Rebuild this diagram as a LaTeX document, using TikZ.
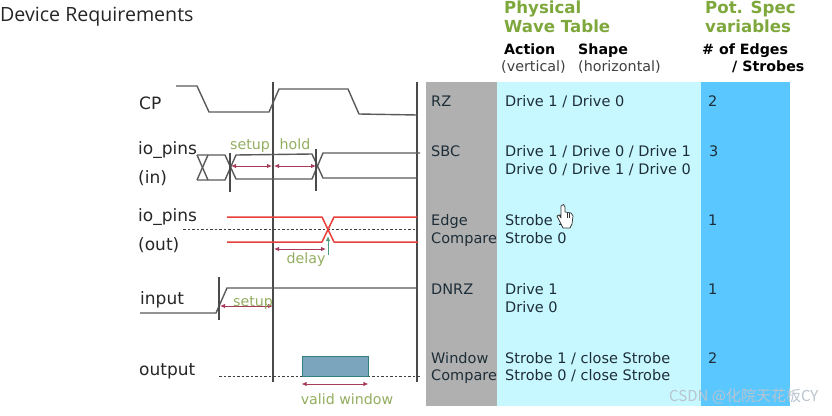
\documentclass[tikz,border=0pt]{standalone}
\usepackage{fontspec}
\setmainfont{DejaVu Sans}
\newfontfamily\titlefont{Open Sans}
\newfontfamily\cjkfont{Noto Sans CJK SC}
\usetikzlibrary{arrows.meta}
\definecolor{wave}{HTML}{5A5A5A}
\definecolor{vline}{HTML}{4A4A4A}
\definecolor{redw}{HTML}{E8403A}
\definecolor{maroon}{HTML}{A83A5A}
\definecolor{olive}{HTML}{94AE60}
\definecolor{head}{HTML}{7FA83C}
\definecolor{tgray}{HTML}{B0B0B0}
\definecolor{tcyan}{HTML}{C8F8FF}
\definecolor{tblue}{HTML}{5AC8FF}
\definecolor{ink}{HTML}{1E2E38}
\definecolor{wmark}{HTML}{B8C4CE}
\definecolor{greenar}{HTML}{4F9A80}
\tikzset{
  x=1pt,y=-1pt,
  lbl/.style={inner sep=0pt,anchor=mid west,yshift=-2pt,font=\fontsize{14.5}{16}\selectfont,text=ink},
  sig/.style={inner sep=0pt,anchor=mid west,yshift=-3pt,font=\fontsize{17}{19}\selectfont,text=black!85},
  note/.style={inner sep=0pt,anchor=mid,yshift=-2.5pt,font=\fontsize{14.2}{16}\selectfont,text=olive},
  hd/.style={inner sep=0pt,anchor=mid west,yshift=-2pt,font=\fontsize{16.6}{18}\selectfont\bfseries,text=head},
  sub/.style={inner sep=0pt,anchor=mid west,yshift=-2pt,font=\fontsize{14.2}{16}\selectfont\bfseries,text=black},
  subn/.style={inner sep=0pt,anchor=mid west,yshift=-2pt,font=\fontsize{14.3}{16}\selectfont,text=black!75},
  wv/.style={draw=wave,line width=1.4pt,line join=round},
  vl/.style={draw=vline,line width=1.2pt},
  rw/.style={draw=redw,line width=1.5pt,line join=round},
  dsh/.style={draw=black!75,line width=1pt,dash pattern=on 2.5pt off 2pt},
  dim/.style={draw=maroon,line width=0.9pt,{Latex[length=5pt,width=4.5pt]}-{Latex[length=5pt,width=4.5pt]}},
}
\begin{document}
\begin{tikzpicture}
\useasboundingbox (0,0) rectangle (832,415);
\fill[white] (0,0) rectangle (832,415);
% table bands
\fill[tgray] (426,82) rectangle (497,406);
\fill[tcyan] (497,82) rectangle (701,406);
\fill[tblue] (701,82) rectangle (790,406);
% title and headers
\node[inner sep=0pt,anchor=mid west,font=\fontsize{19.6}{22}\selectfont\titlefont,text=black!85] (title) at (0,19) {Device Requirements};
\node[hd] (h1) at (504,9) {Physical};
\node[hd] (h2) at (504,28) {Wave Table};
\node[hd] (h3) at (705,9) {Pot. Spec};
\node[hd] (h4) at (705,28) {variables};
\node[sub] (s1) at (504,50) {Action};
\node[sub] (s2) at (578,50) {Shape};
\node[sub] (s3) at (702,50) {\# of Edges};
\node[sub] (s4) at (732,67) {/ Strobes};
\node[subn] (n1) at (501,67) {(vertical)};
\node[subn] (n2) at (578,67) {(horizontal)};
% signal names
\node[sig] (cp) at (139,104) {CP};
\node[sig] (ioa) at (138,149) {io\_pins};
\node[sig] (iob) at (138,178) {(in)};
\node[sig] (ioc) at (138,216) {io\_pins};
\node[sig] (iod) at (138,245) {(out)};
\node[sig] (inp) at (140,299) {input};
\node[sig] (outp) at (139,370) {output};
% table text
\node[lbl] (c1) at (431,102) {RZ};
\node[lbl] (c2) at (431,152) {SBC};
\node[lbl] (c3) at (431,221) {Edge};
\node[lbl] (c3b) at (431,239) {Compare};
\node[lbl] (c4) at (431,290) {DNRZ};
\node[lbl] (c5) at (431,359) {Window};
\node[lbl] (c5b) at (431,376) {Compare};
\node[lbl] (d1) at (505,102) {Drive 1 / Drive 0};
\node[lbl] (d2) at (505,152) {Drive 1 / Drive 0 / Drive 1};
\node[lbl] (d2b) at (505,170) {Drive 0 / Drive 1 / Drive 0};
\node[lbl] (d3) at (505,221) {Strobe 1};
\node[lbl] (d3b) at (505,239) {Strobe 0};
\node[lbl] (d4) at (505,290) {Drive 1};
\node[lbl] (d4b) at (505,308) {Drive 0};
\node[lbl] (d5) at (505,359) {Strobe 1 / close Strobe};
\node[lbl] (d5b) at (505,376) {Strobe 0 / close Strobe};
\node[lbl] (e1) at (708,102) {2};
\node[lbl] (e2) at (709,152) {3};
\node[lbl] (e3) at (708,221) {1};
\node[lbl] (e4) at (708,290) {1};
\node[lbl] (e5) at (708,359) {2};
% verticals
\coordinate (t1a) at (273,82); \coordinate (t1b) at (273,382);
\coordinate (t2a) at (417,82); \coordinate (t2b) at (417,382);
\draw[vl] (t1a) -- (t1b);
\draw[vl] (t2a) -- (t2b);
% CP
\draw[wv] (176,86) -- (197,86) -- (209,112) -- (269,112) -- (279,89) -- (348,89) -- (359,114) -- (417,115);
% io_pins in
\draw[wv] (197,155) -- (225,155) -- (236,179) -- (312,179) -- (323,153) -- (420,153);
\draw[wv] (197,180) -- (225,180) -- (236,155) -- (312,154) -- (323,178) -- (417,178);
\draw[wv] (197,155) -- (208,180);
\draw[wv] (208,155) -- (197,180);
\coordinate (st1) at (230,153); \coordinate (st2) at (230,192);
\coordinate (ho1) at (316,149); \coordinate (ho2) at (316,191);
\draw[vl] (st1) -- (st2);
\draw[vl] (ho1) -- (ho2);
\coordinate (sa) at (231,166); \coordinate (sb) at (272,166);
\coordinate (ha) at (274,166); \coordinate (hb) at (316,166);
\draw[dim] (sa) -- (sb);
\draw[dim] (ha) -- (hb);
\node[note] (setup1) at (250,144) {setup};
\node[note] (hold) at (295,144) {hold};
% io_pins out
\coordinate (dsa) at (183,229); \coordinate (dsb) at (417,229);
\draw[dsh] (dsa) -- (dsb);
\draw[rw] (227,217) -- (322,217) -- (334,242) -- (418,242);
\draw[rw] (227,242) -- (322,242) -- (334,217) -- (417,217);
\coordinate (ga) at (328,255); \coordinate (gb) at (328,236);
\draw[draw=greenar,line width=0.9pt,-{Latex[length=5pt,width=4.5pt]}] (ga) -- (gb);
\coordinate (da) at (274,249); \coordinate (db) at (326,249);
\draw[dim] (da) -- (db);
\node[note] (delay) at (306,258) {delay};
% input
\draw[wv] (140,313) -- (216,313) -- (227,288) -- (417,288);
\coordinate (ia) at (219,277); \coordinate (ib) at (219,320);
\draw[vl] (ia) -- (ib);
\coordinate (ua) at (220,306); \coordinate (ub) at (273,306);
\draw[dim] (ua) -- (ub);
\node[note] (setup2) at (253,301) {setup};
% output
\coordinate (oa) at (219,376); \coordinate (ob) at (420,376);
\draw[dsh] (oa) -- (ob);
\node[draw=teal!60!gray,fill={rgb,255:red,122;green,165;blue,188},line width=0.8pt,minimum width=66pt,minimum height=20pt,inner sep=0pt] (win) at (335,366) {};
\draw[dim] (win.south west |- 0,384) -- (win.south east |- 0,384);
\node[note] (valid) at (347,399) {valid window};
% hand cursor
\draw[fill=white,draw=black!80,line width=0.7pt,line join=round] (561,224) -- (557,216) -- (559,215) -- (561,218) -- (561,206) -- (563.5,204.5) -- (565,207) -- (565,212) -- (571,213) -- (573,216) -- (572,224) -- (570,228) -- (563,228) -- cycle;
\draw[draw=black!80,line width=0.5pt] (567,213) -- (567,218) (569.5,213) -- (569.5,218);
% watermark
\node[inner sep=0pt,anchor=mid west,font=\fontsize{15}{17}\selectfont\cjkfont,text=wmark] (wm) at (669,399) {CSDN @化院天花板CY};
\end{tikzpicture}
\end{document}
